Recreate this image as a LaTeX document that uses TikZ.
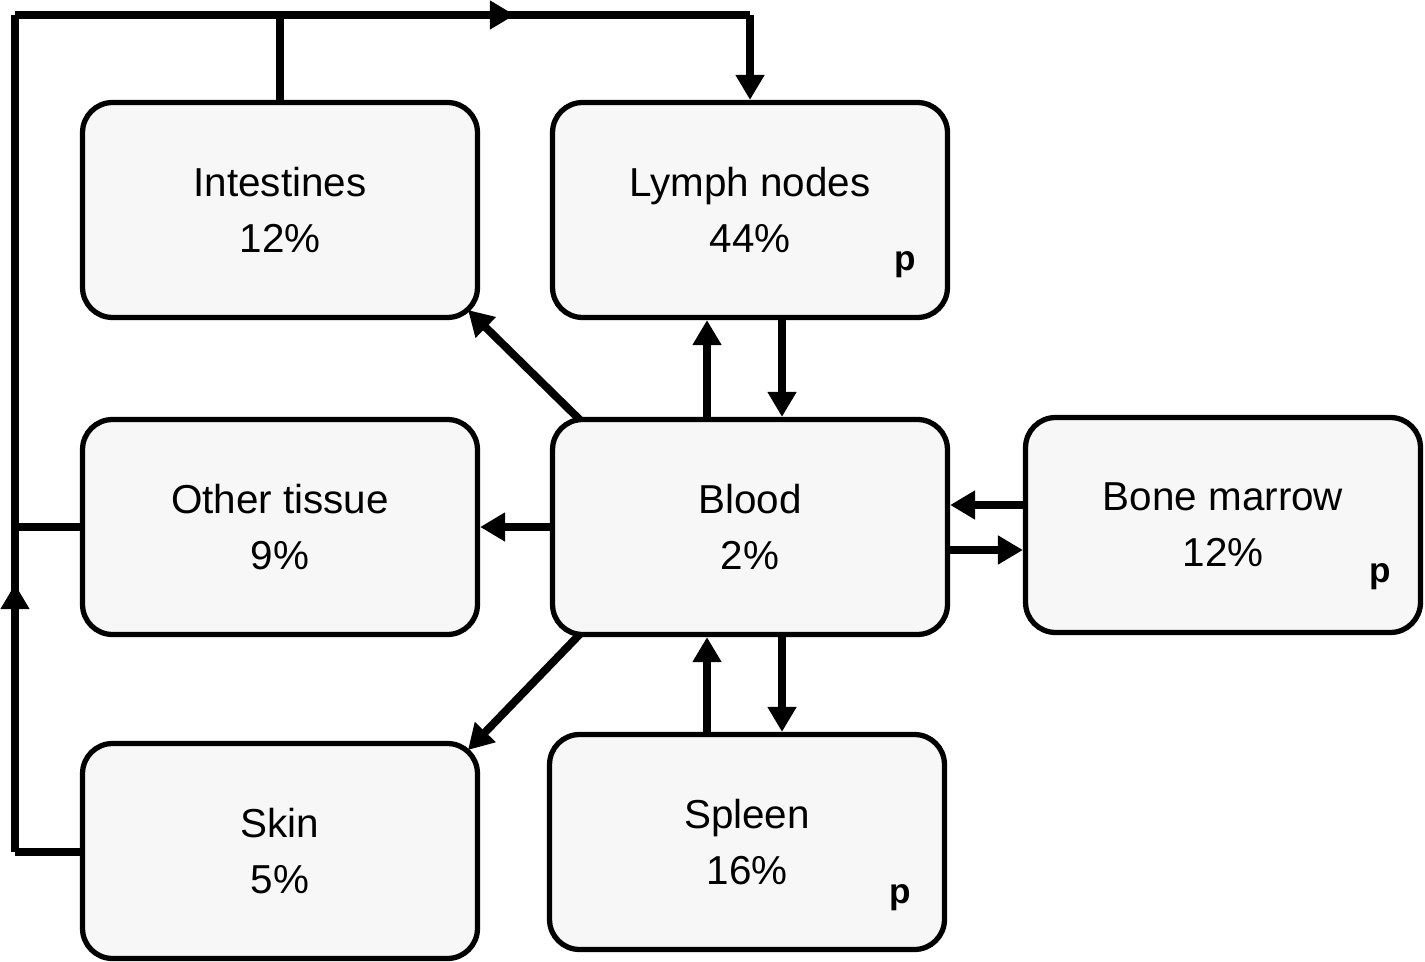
\documentclass[tikz,border=0pt]{standalone}
\usepackage{fontspec}
\setmainfont{Liberation Sans}
\usetikzlibrary{arrows.meta}
\usetikzlibrary{decorations.markings}
\colorlet{colBox}{black!3}

\begin{document}
\begin{tikzpicture}[x=0.02cm,y=-0.02cm,
	organ/.style={draw,line width=3pt,fill=colBox,rounded corners=0.6cm,
		minimum width=7.9cm,minimum height=4.3cm,align=center,
		font=\fontsize{23}{32}\selectfont},
	flow/.style={line width=4.5pt,-{Triangle[length=0.5cm,width=0.55cm]}},
	loop/.style={line width=4.5pt},
	midarrow/.style={postaction={decorate},decoration={markings,
		mark=at position #1 with {\arrow{Triangle[length=0.5cm,width=0.55cm]}}}},
	plabel/.style={font=\fontsize{20}{24}\selectfont\bfseries}]

	\useasboundingbox (0,0) rectangle (1425,962);

	% ================================================================
	% Compartments
	% ================================================================
	\node[organ] (int) at (280,210) {Intestines\\12\%};
	\node[organ] (lym) at (750,210) {Lymph nodes\\44\%};
	\node[organ] (oth) at (280,527) {Other tissue\\9\%};
	\node[organ] (blo) at (750,527) {Blood\\2\%};
	\node[organ] (bon) at (1223,525) {Bone marrow\\12\%};
	\node[organ] (ski) at (280,851) {Skin\\5\%};
	\node[organ] (spl) at (747,842) {Spleen\\16\%};

	% proliferation marks
	\node[plabel] (plym) at (905,265) {p};
	\node[plabel] (pbon) at (1380,577) {p};
	\node[plabel] (pspl) at (900,898) {p};

	% ================================================================
	% Lymph return loop
	% ================================================================
	\coordinate (cski) at (15,852);
	\coordinate (coth) at (15,527);
	\coordinate (ctl) at (15,15);
	\coordinate (cint) at (280,15);
	\coordinate (ctr) at (750,15);
	\draw[loop] (ski.west|-cski) -- (cski);
	\draw[loop,midarrow=0.32] (cski) -- (ctl);
	\draw[loop] (oth.west) -- (coth);
	\draw[loop] (int.north) -- (cint);
	\draw[loop,midarrow=0.68] (ctl) -- (ctr);
	\draw[flow] (ctr) -- (lym.north);

	% ================================================================
	% Blood exchange
	% ================================================================
	\draw[flow] (580,420) -- (468,310);
	\draw[flow] (blo.north-|707,0) -- (lym.south-|707,0);
	\draw[flow] (lym.south-|782,0) -- (blo.north-|782,0);
	\draw[flow] (blo.west) -- (oth.east);
	\draw[flow] (bon.west|-0,505) -- (blo.east|-0,505);
	\draw[flow] (blo.east|-0,550) -- (bon.west|-0,550);
	\draw[flow] (580,634) -- (468,750);
	\draw[flow] (spl.north-|707,0) -- (blo.south-|707,0);
	\draw[flow] (blo.south-|782,0) -- (spl.north-|782,0);
\end{tikzpicture}
\end{document}
